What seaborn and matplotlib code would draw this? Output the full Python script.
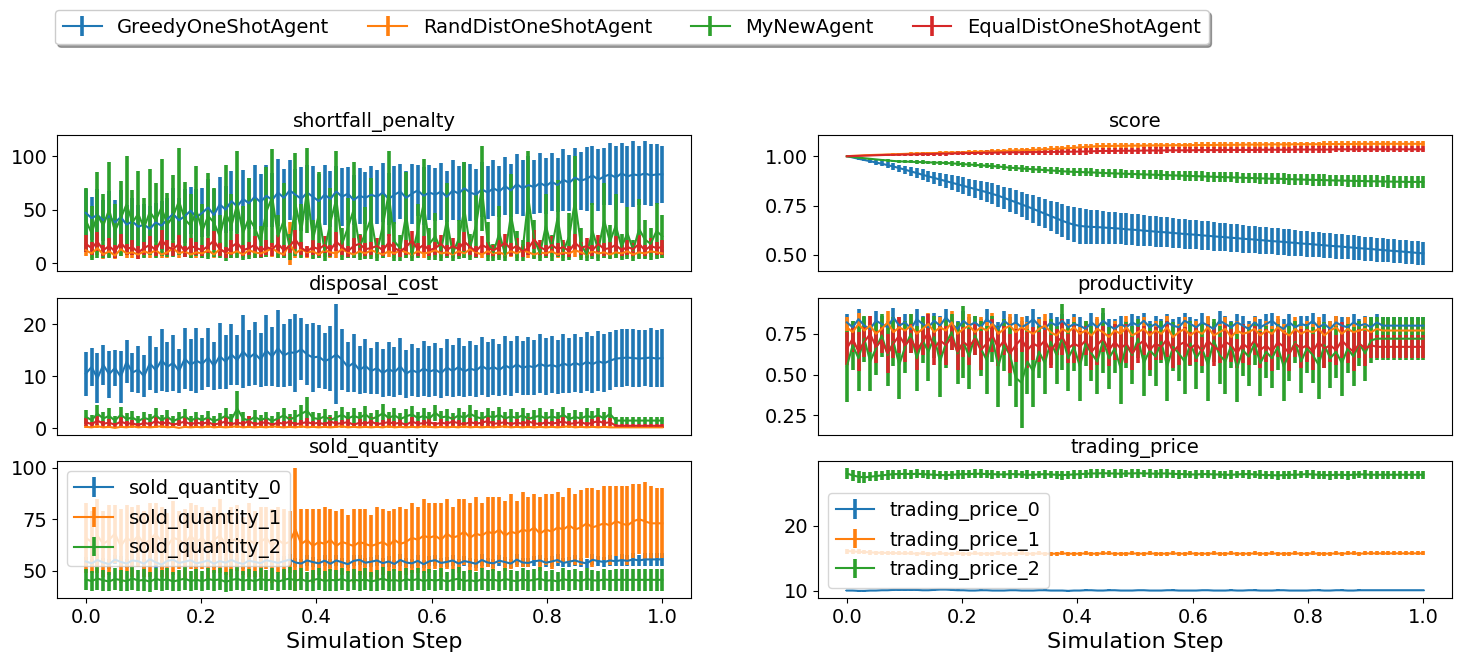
import numpy as np
import matplotlib
matplotlib.use("Agg")
import matplotlib.pyplot as plt
import seaborn as sns

# simulation steps, normalised to 0..1
n_steps = 100
steps = np.arange(n_steps) / (n_steps - 1)

agents = ["GreedyOneShotAgent", "RandDistOneShotAgent", "MyNewAgent", "EqualDistOneShotAgent"]

# ---------------- shortfall_penalty ----------------
greedy_sp = [47, 42, 45, 40, 44, 38, 43, 36, 39, 34,
             36, 32, 38, 35, 41, 46, 40, 44, 49, 43,
             47, 52, 45, 55, 50, 58, 53, 60, 56, 62,
             57, 63, 59, 66, 61, 68, 64, 60, 66, 62,
             58, 64, 60, 67, 62, 65, 59, 63, 61, 64,
             62, 66, 60, 64, 67, 61, 65, 68, 63, 66,
             64, 67, 62, 68, 65, 70, 66, 64, 69, 66,
             70, 67, 72, 68, 74, 70, 73, 71, 75, 72,
             76, 73, 78, 75, 80, 77, 79, 82, 78, 81,
             83, 80, 84, 81, 83, 82, 84, 82, 83, 83]
greedy_sp_err = [22, 20, 24, 19, 23, 21, 25, 18, 22, 20,
                 19, 21, 18, 23, 20, 24, 21, 25, 22, 26,
                 23, 27, 24, 26, 22, 28, 25, 27, 24, 30,
                 26, 29, 25, 31, 27, 28, 24, 30, 26, 29,
                 25, 28, 26, 24, 27, 25, 23, 26, 24, 27,
                 25, 28, 24, 27, 26, 25, 28, 24, 27, 26,
                 25, 27, 24, 28, 26, 25, 27, 24, 26, 25,
                 26, 24, 27, 25, 28, 26, 27, 25, 28, 26,
                 27, 25, 29, 26, 28, 27, 30, 28, 29, 27,
                 29, 30, 28, 29, 31, 28, 30, 29, 28, 27]
rand_sp = [12, 9, 14, 8, 11, 7, 13, 9, 10, 8,
           11, 9, 12, 8, 10, 14, 9, 11, 8, 10,
           9, 12, 8, 13, 10, 9, 11, 8, 12, 10,
           9, 11, 14, 10, 8, 18, 9, 13, 10, 11,
           8, 12, 10, 9, 13, 10, 8, 11, 9, 12,
           10, 8, 11, 9, 12, 10, 8, 11, 9, 10,
           12, 9, 10, 8, 11, 9, 13, 10, 8, 11,
           9, 10, 8, 11, 9, 12, 10, 8, 10, 9,
           11, 8, 10, 9, 12, 10, 8, 11, 9, 10,
           8, 10, 9, 11, 8, 10, 9, 11, 10, 9]
rand_sp_err = [5, 4, 6, 4, 5, 3, 6, 4, 5, 4,
               5, 4, 6, 3, 5, 7, 4, 5, 3, 5,
               4, 6, 3, 7, 5, 4, 5, 3, 6, 5,
               4, 5, 8, 5, 3, 20, 4, 7, 5, 6,
               3, 6, 5, 4, 7, 5, 3, 5, 4, 6,
               5, 3, 5, 4, 6, 5, 3, 5, 4, 5,
               6, 4, 5, 3, 5, 4, 7, 5, 3, 5,
               4, 5, 3, 5, 4, 6, 5, 3, 5, 4,
               5, 3, 5, 4, 6, 5, 3, 5, 4, 5,
               3, 5, 4, 5, 3, 5, 4, 5, 5, 4]
mynew_sp = [40, 28, 45, 35, 50, 30, 42, 55, 38, 46,
            33, 48, 40, 52, 36, 44, 58, 41, 35, 49,
            30, 44, 38, 25, 47, 35, 55, 28, 42, 33,
            20, 48, 62, 25, 40, 15, 55, 30, 68, 22,
            45, 12, 38, 60, 18, 33, 50, 15, 28, 42,
            10, 35, 65, 20, 14, 45, 8, 30, 55, 18,
            25, 12, 40, 9, 22, 50, 15, 35, 70, 20,
            10, 28, 8, 45, 16, 12, 60, 22, 9, 35,
            14, 42, 11, 25, 58, 18, 8, 30, 12, 40,
            20, 35, 15, 28, 12, 32, 22, 18, 30, 25]
mynew_sp_err = [30, 25, 40, 30, 45, 25, 35, 45, 30, 40,
                28, 40, 35, 45, 30, 38, 50, 35, 30, 42,
                25, 40, 32, 20, 45, 30, 50, 25, 38, 28,
                15, 42, 45, 20, 35, 12, 48, 25, 40, 18,
                40, 10, 32, 45, 15, 28, 45, 12, 24, 38,
                8, 30, 40, 18, 12, 40, 6, 25, 42, 15,
                22, 10, 35, 7, 18, 45, 12, 30, 40, 18,
                8, 25, 6, 38, 14, 10, 45, 18, 7, 30,
                12, 36, 9, 22, 42, 15, 6, 26, 10, 35,
                16, 30, 12, 24, 10, 28, 18, 15, 26, 20]
equal_sp = [18, 14, 20, 12, 16, 11, 19, 13, 15, 10,
            14, 17, 12, 22, 15, 13, 18, 11, 16, 14,
            12, 16, 21, 13, 10, 15, 19, 12, 14, 17,
            11, 15, 13, 18, 12, 16, 22, 14, 11, 15,
            13, 17, 12, 20, 15, 11, 16, 18, 13, 14,
            16, 12, 19, 14, 11, 15, 21, 13, 17, 12,
            14, 18, 12, 16, 13, 20, 15, 11, 17, 14,
            12, 15, 19, 13, 16, 11, 14, 22, 15, 12,
            17, 13, 15, 11, 19, 14, 16, 12, 18, 13,
            14, 17, 12, 15, 13, 18, 12, 16, 14, 15]
equal_sp_err = [8, 6, 9, 5, 7, 6, 8, 5, 7, 6,
                6, 8, 5, 9, 7, 6, 8, 5, 7, 6,
                5, 7, 9, 6, 5, 7, 8, 5, 6, 8,
                5, 7, 6, 8, 5, 7, 9, 6, 5, 7,
                6, 8, 5, 9, 7, 5, 7, 8, 6, 6,
                7, 5, 8, 6, 5, 7, 9, 6, 8, 5,
                6, 8, 5, 7, 6, 9, 7, 5, 8, 6,
                5, 7, 8, 6, 7, 5, 6, 9, 7, 5,
                8, 6, 7, 5, 8, 6, 7, 5, 8, 6,
                6, 8, 5, 7, 6, 8, 5, 7, 6, 7]

# ---------------- disposal_cost ----------------
greedy_dc = [10.5, 11.8, 9.6, 12.2, 10.4, 11.6, 9.9, 12.8, 10.7, 11.3,
             10.0, 12.5, 11.2, 13.1, 11.8, 12.6, 11.0, 13.4, 12.2, 13.0,
             12.4, 13.6, 12.0, 13.9, 12.8, 14.2, 13.1, 14.8, 13.5, 14.4,
             13.2, 15.0, 13.8, 15.4, 14.0, 14.6, 14.5, 15.2, 14.2, 13.6,
             13.8, 12.9, 13.4, 14.2, 13.2, 11.8, 12.6, 11.2, 12.0, 11.0,
             11.6, 10.6, 11.4, 10.8, 11.9, 10.5, 11.2, 10.7, 11.5, 10.9,
             11.3, 10.6, 11.7, 11.0, 11.8, 10.9, 11.5, 11.1, 12.0, 11.3,
             11.8, 11.2, 12.1, 11.5, 12.3, 11.6, 12.0, 11.7, 12.4, 11.9,
             12.2, 11.8, 12.5, 12.0, 12.6, 12.1, 12.8, 12.3, 12.9, 12.5,
             13.0, 13.4, 13.5, 13.6, 13.5, 13.4, 13.5, 13.6, 13.4, 13.5]
greedy_dc_err = [4.2, 3.6, 4.8, 3.9, 4.5, 3.4, 5.0, 4.1, 3.8, 4.6,
                 4.0, 5.2, 4.4, 6.0, 4.8, 5.4, 4.2, 5.8, 5.0, 6.2,
                 5.0, 5.6, 4.6, 6.4, 5.2, 5.8, 4.8, 7.0, 5.4, 6.0,
                 5.2, 6.8, 5.6, 7.4, 6.0, 6.4, 7.5, 6.0, 5.8, 6.6,
                 6.0, 5.4, 6.2, 9.6, 5.8, 4.8, 5.6, 4.6, 5.2, 4.4,
                 5.0, 4.6, 5.2, 4.8, 5.4, 4.6, 5.0, 4.7, 5.3, 4.9,
                 5.1, 4.8, 5.4, 5.0, 5.5, 4.9, 5.3, 5.0, 5.6, 5.2,
                 5.4, 5.0, 5.6, 5.2, 5.5, 5.1, 5.6, 5.3, 5.7, 5.4,
                 5.5, 5.2, 5.7, 5.3, 5.6, 5.4, 5.7, 5.5, 5.8, 5.6,
                 5.6, 5.4, 5.5, 5.4, 5.6, 5.5, 5.4, 5.6, 5.5, 5.5]
rand_dc = [0.3, 0.2, 0.4, 0.2, 0.3, 0.1, 0.3, 0.2, 0.4, 0.2,
           0.3, 0.2, 0.3, 0.4, 0.2, 0.3, 0.1, 0.3, 0.2, 0.3,
           0.2, 0.4, 0.2, 0.3, 0.2, 0.3, 0.4, 0.2, 0.3, 0.2,
           0.3, 0.2, 0.4, 0.3, 0.2, 0.3, 0.2, 0.4, 0.2, 0.3,
           0.2, 0.3, 0.2, 0.3, 0.4, 0.2, 0.3, 0.2, 0.3, 0.2,
           0.3, 0.2, 0.4, 0.2, 0.3, 0.2, 0.3, 0.2, 0.4, 0.3,
           0.2, 0.3, 0.2, 0.3, 0.2, 0.4, 0.2, 0.3, 0.2, 0.3,
           0.2, 0.3, 0.4, 0.2, 0.3, 0.2, 0.3, 0.2, 0.3, 0.2,
           0.3, 0.2, 0.3, 0.4, 0.2, 0.3, 0.2, 0.3, 0.2, 0.3,
           0.2, 0.2, 0.2, 0.2, 0.2, 0.2, 0.2, 0.2, 0.2, 0.2]
rand_dc_err = [0.3, 0.2, 0.4, 0.2, 0.3, 0.1, 0.3, 0.2, 0.4, 0.2,
               0.3, 0.2, 0.3, 0.4, 0.2, 0.3, 0.1, 0.3, 0.2, 0.3,
               0.2, 0.4, 0.2, 0.3, 0.2, 0.3, 0.4, 0.2, 0.3, 0.2,
               0.3, 0.2, 0.4, 0.3, 0.2, 0.3, 0.2, 0.4, 0.2, 0.3,
               0.2, 0.3, 0.2, 0.3, 0.4, 0.2, 0.3, 0.2, 0.3, 0.2,
               0.3, 0.2, 0.4, 0.2, 0.3, 0.2, 0.3, 0.2, 0.4, 0.3,
               0.2, 0.3, 0.2, 0.3, 0.2, 0.4, 0.2, 0.3, 0.2, 0.3,
               0.2, 0.3, 0.4, 0.2, 0.3, 0.2, 0.3, 0.2, 0.3, 0.2,
               0.3, 0.2, 0.3, 0.4, 0.2, 0.3, 0.2, 0.3, 0.2, 0.3,
               0.2, 0.2, 0.2, 0.2, 0.2, 0.2, 0.2, 0.2, 0.2, 0.2]
mynew_dc = [2.2, 1.6, 2.8, 1.9, 2.4, 1.5, 2.6, 1.8, 2.1, 1.4,
            2.0, 1.7, 2.5, 1.6, 2.2, 1.4, 1.9, 2.3, 1.5, 2.0,
            1.6, 2.1, 1.4, 1.8, 2.4, 1.7, 3.8, 1.9, 1.5, 2.2,
            1.6, 2.0, 1.4, 1.9, 2.5, 1.7, 2.2, 2.8, 3.4, 2.0,
            1.8, 2.3, 1.6, 2.1, 2.6, 1.9, 2.4, 2.0, 2.7, 1.8,
            2.2, 2.9, 2.0, 2.5, 1.8, 2.3, 2.7, 2.0, 2.4, 1.9,
            3.0, 2.1, 2.3, 1.8, 2.5, 2.0, 2.8, 2.2, 1.9, 2.4,
            2.1, 2.6, 1.9, 2.3, 2.0, 2.5, 1.8, 2.2, 2.4, 1.9,
            2.3, 2.0, 2.6, 1.8, 2.2, 1.9, 2.4, 2.1, 2.5, 1.9,
            2.8, 1.5, 1.5, 1.5, 1.5, 1.5, 1.5, 1.5, 1.5, 1.5]
mynew_dc_err = [1.4, 1.0, 1.6, 1.2, 1.5, 0.9, 1.6, 1.1, 1.3, 0.9,
                1.2, 1.0, 1.5, 1.0, 1.3, 0.9, 1.2, 1.4, 0.9, 1.2,
                1.0, 1.3, 0.9, 1.1, 1.5, 1.0, 3.3, 1.2, 0.9, 1.3,
                1.0, 1.2, 0.9, 1.2, 1.5, 1.0, 1.3, 1.7, 2.6, 1.2,
                1.1, 1.4, 1.0, 1.3, 1.6, 1.2, 1.5, 1.2, 1.6, 1.1,
                1.3, 1.7, 1.2, 1.5, 1.1, 1.4, 1.6, 1.2, 1.5, 1.2,
                1.5, 1.3, 1.4, 1.1, 1.5, 1.2, 1.7, 1.3, 1.2, 1.5,
                1.3, 1.6, 1.2, 1.4, 1.2, 1.5, 1.1, 1.3, 1.5, 1.2,
                1.4, 1.2, 1.6, 1.1, 1.3, 1.2, 1.5, 1.3, 1.5, 1.2,
                1.4, 0.7, 0.7, 0.7, 0.7, 0.7, 0.7, 0.7, 0.7, 0.7]
equal_dc = [1.2, 0.8, 1.5, 0.9, 1.1, 0.7, 1.3, 0.9, 1.0, 0.6,
            1.1, 0.8, 1.4, 0.9, 1.2, 0.7, 1.0, 1.3, 0.8, 1.1,
            0.9, 1.2, 0.7, 1.0, 1.3, 0.8, 1.1, 0.9, 1.4, 0.8,
            1.0, 1.2, 0.7, 1.1, 0.9, 1.3, 0.8, 1.0, 1.2, 0.9,
            1.1, 0.8, 1.3, 0.9, 1.0, 1.2, 0.7, 1.1, 0.9, 1.3,
            0.8, 1.0, 1.2, 0.9, 1.1, 0.7, 1.3, 0.9, 1.0, 1.2,
            0.8, 1.1, 0.9, 1.3, 1.0, 0.8, 1.2, 0.9, 1.1, 1.4,
            0.9, 1.0, 1.2, 0.8, 1.1, 0.9, 1.3, 1.0, 0.8, 1.2,
            0.9, 1.1, 1.3, 0.9, 1.0, 1.2, 0.8, 1.1, 1.4, 1.0,
            1.2, 0.5, 0.5, 0.5, 0.5, 0.5, 0.5, 0.5, 0.5, 0.5]
equal_dc_err = [0.8, 0.5, 0.9, 0.6, 0.7, 0.4, 0.8, 0.6, 0.7, 0.4,
                0.7, 0.5, 0.9, 0.6, 0.8, 0.4, 0.6, 0.8, 0.5, 0.7,
                0.6, 0.8, 0.4, 0.6, 0.8, 0.5, 0.7, 0.6, 0.9, 0.5,
                0.6, 0.8, 0.4, 0.7, 0.6, 0.8, 0.5, 0.6, 0.8, 0.6,
                0.7, 0.5, 0.8, 0.6, 0.6, 0.8, 0.4, 0.7, 0.6, 0.8,
                0.5, 0.6, 0.8, 0.6, 0.7, 0.4, 0.8, 0.6, 0.6, 0.8,
                0.5, 0.7, 0.6, 0.8, 0.6, 0.5, 0.8, 0.6, 0.7, 0.9,
                0.6, 0.6, 0.8, 0.5, 0.7, 0.6, 0.8, 0.6, 0.5, 0.8,
                0.6, 0.7, 0.8, 0.6, 0.6, 0.8, 0.5, 0.7, 0.9, 0.6,
                0.8, 0.4, 0.4, 0.4, 0.4, 0.4, 0.4, 0.4, 0.4, 0.4]

# ---------------- sold_quantity ----------------
sold_q0 = [54.5, 53.6, 55.2, 54.0, 53.2, 55.4, 54.3, 53.5, 55.0, 54.6,
           53.4, 55.6, 54.1, 53.0, 54.8, 55.3, 53.8, 54.4, 55.1, 53.6,
           54.2, 55.0, 53.4, 54.7, 53.9, 55.2, 54.0, 53.3, 54.9, 54.3,
           53.7, 55.1, 54.5, 53.8, 54.6, 55.4, 54.0, 53.5, 55.0, 54.2,
           53.6, 54.9, 53.4, 55.0, 54.1, 53.2, 54.8, 55.3, 53.9, 54.4,
           55.0, 53.7, 54.5, 53.3, 55.2, 54.0, 53.6, 54.8, 53.2, 54.6,
           55.1, 53.8, 54.3, 55.0, 53.5, 54.7, 54.1, 53.4, 55.2, 54.0,
           53.6, 54.9, 54.2, 53.5, 55.4, 54.0, 53.8, 54.6, 55.0, 53.9,
           54.5, 55.2, 53.8, 54.4, 55.0, 54.1, 53.6, 55.3, 54.7, 54.2,
           55.0, 54.6, 55.2, 54.8, 55.5, 55.0, 55.5, 55.5, 55.5, 55.5]
sold_q0_err = [2.4, 2.0, 2.8, 2.2, 2.5, 2.1, 2.7, 2.3, 2.6, 2.0,
               2.5, 2.2, 2.8, 2.1, 2.4, 2.6, 2.2, 2.5, 2.7, 2.1,
               2.4, 2.6, 2.0, 2.5, 2.3, 2.7, 2.2, 2.4, 2.6, 2.1,
               2.5, 2.3, 2.7, 2.2, 2.4, 2.8, 2.3, 2.1, 2.6, 2.4,
               2.2, 2.5, 2.1, 2.7, 2.3, 2.0, 2.6, 2.4, 2.2, 2.5,
               2.7, 2.3, 2.5, 2.1, 2.8, 2.4, 2.2, 2.6, 2.0, 2.5,
               2.7, 2.2, 2.4, 2.6, 2.1, 2.5, 2.3, 2.2, 2.8, 2.4,
               2.2, 2.6, 2.4, 2.1, 2.7, 2.3, 2.2, 2.5, 2.7, 2.3,
               2.5, 2.7, 2.2, 2.4, 2.6, 2.3, 2.1, 2.7, 2.5, 2.4,
               2.6, 2.5, 2.7, 2.6, 3.0, 2.8, 3.0, 3.0, 3.0, 3.0]
sold_q1 = [66, 64, 67, 63, 65, 68, 62, 66, 64, 67,
           63, 65, 68, 64, 62, 66, 65, 63, 67, 64,
           66, 62, 65, 67, 63, 64, 66, 62, 65, 63,
           64, 66, 62, 65, 63, 64, 70, 63, 65, 62,
           64, 63, 65, 62, 64, 63, 62, 64, 63, 62,
           63, 64, 62, 65, 63, 64, 66, 65, 67, 66,
           67, 65, 68, 66, 67, 69, 66, 68, 67, 69,
           68, 70, 67, 69, 68, 70, 69, 71, 68, 70,
           69, 71, 70, 72, 70, 71, 73, 71, 72, 73,
           72, 74, 73, 72, 74, 75, 74, 73, 73, 73]
sold_q1_err = [17, 15, 18, 16, 17, 14, 18, 16, 17, 15,
               16, 18, 15, 17, 16, 18, 14, 17, 16, 18,
               15, 17, 16, 18, 15, 17, 16, 14, 18, 16,
               17, 15, 18, 16, 17, 15, 30, 17, 15, 18,
               16, 18, 15, 17, 16, 14, 18, 16, 17, 15,
               18, 16, 17, 15, 18, 16, 17, 16, 18, 17,
               16, 18, 17, 15, 18, 16, 17, 18, 16, 17,
               18, 16, 17, 18, 16, 18, 17, 16, 18, 17,
               18, 17, 16, 18, 17, 18, 17, 19, 17, 18,
               19, 17, 18, 19, 18, 17, 19, 18, 17, 17]
sold_q2 = [45.8, 45.0, 46.2, 45.4, 44.8, 46.0, 45.5, 44.9, 46.3, 45.2,
           45.6, 44.7, 46.1, 45.3, 45.9, 44.8, 45.5, 46.2, 45.0, 45.7,
           44.9, 46.0, 45.4, 45.8, 44.6, 45.5, 46.1, 45.1, 45.7, 44.9,
           46.0, 45.3, 45.8, 44.7, 45.6, 46.2, 45.2, 45.9, 44.8, 45.5,
           46.1, 45.0, 45.6, 45.3, 46.0, 44.9, 45.7, 45.2, 45.8, 44.8,
           45.5, 46.2, 45.1, 45.6, 44.9, 45.9, 45.3, 46.0, 45.0, 45.7,
           45.2, 45.8, 44.7, 45.6, 46.1, 45.0, 45.5, 44.8, 45.9, 45.3,
           45.7, 45.0, 46.0, 45.4, 44.9, 45.8, 45.2, 45.6, 46.1, 45.1,
           45.5, 44.8, 45.9, 45.3, 45.7, 45.0, 46.0, 45.4, 45.2, 45.8,
           45.5, 45.6, 45.6, 45.6, 45.6, 45.6, 45.6, 45.6, 45.6, 45.6]
sold_q2_err = [5.2, 4.8, 5.5, 5.0, 4.7, 5.3, 5.1, 4.9, 5.6, 5.0,
               5.2, 4.8, 5.4, 5.0, 5.3, 4.7, 5.1, 5.5, 4.9, 5.2,
               4.8, 5.4, 5.0, 5.3, 4.7, 5.2, 5.5, 4.9, 5.1, 4.8,
               5.4, 5.0, 5.3, 4.7, 5.1, 5.6, 5.0, 5.2, 4.8, 5.1,
               5.4, 4.9, 5.2, 5.0, 5.3, 4.8, 5.1, 4.9, 5.3, 4.7,
               5.1, 5.5, 4.9, 5.2, 4.8, 5.3, 5.0, 5.4, 4.9, 5.1,
               5.0, 5.3, 4.7, 5.2, 5.5, 4.9, 5.1, 4.8, 5.4, 5.0,
               5.2, 4.9, 5.4, 5.0, 4.8, 5.3, 5.0, 5.2, 5.5, 4.9,
               5.1, 4.8, 5.4, 5.0, 5.2, 4.9, 5.3, 5.0, 4.9, 5.2,
               5.1, 5.2, 5.2, 5.2, 5.2, 5.2, 5.2, 5.2, 5.2, 5.2]

# ---------------- score ----------------
greedy_score = [1.000, 0.994, 0.987, 0.981, 0.975, 0.968, 0.962, 0.955, 0.948, 0.940,
                0.932, 0.923, 0.915, 0.906, 0.898, 0.890, 0.882, 0.874, 0.866, 0.858,
                0.850, 0.842, 0.834, 0.826, 0.818, 0.809, 0.800, 0.789, 0.778, 0.767,
                0.756, 0.745, 0.733, 0.721, 0.709, 0.697, 0.685, 0.673, 0.662, 0.653,
                0.647, 0.644, 0.642, 0.641, 0.639, 0.637, 0.635, 0.633, 0.630, 0.628,
                0.626, 0.623, 0.621, 0.618, 0.616, 0.614, 0.611, 0.609, 0.606, 0.604,
                0.602, 0.599, 0.597, 0.594, 0.592, 0.590, 0.587, 0.585, 0.582, 0.580,
                0.578, 0.575, 0.573, 0.570, 0.568, 0.566, 0.563, 0.561, 0.558, 0.556,
                0.554, 0.551, 0.549, 0.546, 0.544, 0.542, 0.539, 0.537, 0.534, 0.532,
                0.530, 0.527, 0.525, 0.522, 0.520, 0.518, 0.515, 0.513, 0.510, 0.508]
greedy_score_err = [0.000, 0.003, 0.005, 0.007, 0.009, 0.011, 0.012, 0.014, 0.016, 0.018,
                    0.020, 0.022, 0.025, 0.027, 0.029, 0.032, 0.034, 0.036, 0.039, 0.041,
                    0.043, 0.045, 0.047, 0.049, 0.051, 0.053, 0.055, 0.057, 0.059, 0.061,
                    0.063, 0.066, 0.069, 0.072, 0.075, 0.078, 0.081, 0.084, 0.087, 0.089,
                    0.090, 0.089, 0.087, 0.085, 0.083, 0.082, 0.081, 0.080, 0.080, 0.079,
                    0.079, 0.078, 0.078, 0.077, 0.077, 0.076, 0.076, 0.075, 0.075, 0.074,
                    0.074, 0.073, 0.073, 0.072, 0.072, 0.071, 0.071, 0.070, 0.070, 0.069,
                    0.069, 0.068, 0.068, 0.067, 0.067, 0.066, 0.066, 0.065, 0.065, 0.064,
                    0.064, 0.064, 0.063, 0.063, 0.063, 0.062, 0.062, 0.062, 0.061, 0.061,
                    0.061, 0.061, 0.060, 0.060, 0.060, 0.060, 0.060, 0.060, 0.060, 0.060]
rand_score = [1.000, 1.002, 1.003, 1.005, 1.006, 1.007, 1.008, 1.009, 1.010, 1.011,
              1.012, 1.013, 1.014, 1.015, 1.016, 1.016, 1.017, 1.018, 1.019, 1.019,
              1.020, 1.021, 1.022, 1.023, 1.024, 1.025, 1.026, 1.027, 1.028, 1.029,
              1.030, 1.031, 1.032, 1.034, 1.035, 1.036, 1.038, 1.040, 1.041, 1.043,
              1.045, 1.047, 1.049, 1.051, 1.052, 1.052, 1.053, 1.053, 1.053, 1.054,
              1.054, 1.054, 1.055, 1.055, 1.055, 1.055, 1.056, 1.056, 1.056, 1.056,
              1.057, 1.057, 1.057, 1.057, 1.058, 1.058, 1.058, 1.058, 1.059, 1.059,
              1.059, 1.059, 1.060, 1.060, 1.060, 1.060, 1.060, 1.061, 1.061, 1.061,
              1.061, 1.061, 1.062, 1.062, 1.062, 1.062, 1.062, 1.062, 1.063, 1.063,
              1.063, 1.063, 1.063, 1.063, 1.063, 1.063, 1.063, 1.063, 1.063, 1.063]
rand_score_err = [0.000, 0.001, 0.001, 0.002, 0.002, 0.003, 0.003, 0.004, 0.004, 0.005,
                  0.005, 0.006, 0.006, 0.006, 0.007, 0.007, 0.008, 0.008, 0.008, 0.009,
                  0.009, 0.009, 0.010, 0.010, 0.010, 0.011, 0.011, 0.011, 0.012, 0.012,
                  0.012, 0.013, 0.013, 0.013, 0.013, 0.014, 0.014, 0.014, 0.014, 0.014,
                  0.015, 0.015, 0.015, 0.015, 0.015, 0.015, 0.015, 0.014, 0.014, 0.014,
                  0.014, 0.014, 0.014, 0.014, 0.014, 0.014, 0.013, 0.013, 0.013, 0.013,
                  0.013, 0.013, 0.013, 0.013, 0.013, 0.013, 0.013, 0.013, 0.013, 0.013,
                  0.013, 0.013, 0.013, 0.013, 0.013, 0.013, 0.013, 0.013, 0.013, 0.013,
                  0.013, 0.013, 0.013, 0.013, 0.013, 0.013, 0.013, 0.013, 0.013, 0.013,
                  0.013, 0.013, 0.013, 0.013, 0.013, 0.013, 0.013, 0.013, 0.013, 0.013]
mynew_score = [1.000, 0.996, 0.993, 0.990, 0.987, 0.984, 0.981, 0.979, 0.976, 0.974,
               0.973, 0.972, 0.971, 0.970, 0.969, 0.968, 0.967, 0.966, 0.964, 0.962,
               0.960, 0.958, 0.956, 0.954, 0.952, 0.950, 0.948, 0.945, 0.942, 0.940,
               0.938, 0.936, 0.934, 0.932, 0.930, 0.928, 0.926, 0.924, 0.922, 0.921,
               0.920, 0.919, 0.918, 0.917, 0.915, 0.914, 0.913, 0.912, 0.911, 0.910,
               0.909, 0.908, 0.907, 0.906, 0.905, 0.904, 0.903, 0.902, 0.901, 0.900,
               0.899, 0.898, 0.897, 0.896, 0.895, 0.894, 0.893, 0.892, 0.891, 0.890,
               0.889, 0.888, 0.887, 0.886, 0.886, 0.885, 0.884, 0.883, 0.882, 0.881,
               0.880, 0.880, 0.879, 0.878, 0.877, 0.877, 0.876, 0.875, 0.875, 0.874,
               0.873, 0.873, 0.872, 0.872, 0.871, 0.871, 0.870, 0.870, 0.870, 0.870]
mynew_score_err = [0.000, 0.001, 0.002, 0.003, 0.004, 0.004, 0.005, 0.006, 0.006, 0.007,
                   0.007, 0.008, 0.008, 0.009, 0.009, 0.010, 0.010, 0.011, 0.011, 0.012,
                   0.012, 0.012, 0.013, 0.013, 0.014, 0.014, 0.014, 0.015, 0.015, 0.016,
                   0.016, 0.016, 0.017, 0.017, 0.017, 0.018, 0.018, 0.018, 0.019, 0.019,
                   0.019, 0.020, 0.020, 0.020, 0.020, 0.021, 0.021, 0.021, 0.021, 0.022,
                   0.022, 0.022, 0.022, 0.023, 0.023, 0.023, 0.023, 0.024, 0.024, 0.024,
                   0.024, 0.025, 0.025, 0.025, 0.025, 0.026, 0.026, 0.026, 0.026, 0.026,
                   0.027, 0.027, 0.027, 0.027, 0.027, 0.028, 0.028, 0.028, 0.028, 0.028,
                   0.029, 0.029, 0.029, 0.029, 0.029, 0.029, 0.030, 0.030, 0.030, 0.030,
                   0.030, 0.030, 0.030, 0.031, 0.031, 0.031, 0.031, 0.031, 0.032, 0.032]
equal_score = [1.000, 1.001, 1.002, 1.003, 1.004, 1.005, 1.006, 1.007, 1.007, 1.008,
               1.009, 1.009, 1.010, 1.011, 1.011, 1.012, 1.013, 1.013, 1.014, 1.015,
               1.016, 1.016, 1.017, 1.017, 1.018, 1.018, 1.019, 1.019, 1.020, 1.020,
               1.020, 1.021, 1.021, 1.021, 1.022, 1.022, 1.022, 1.023, 1.023, 1.023,
               1.024, 1.024, 1.025, 1.026, 1.027, 1.027, 1.027, 1.028, 1.028, 1.028,
               1.028, 1.029, 1.029, 1.029, 1.029, 1.030, 1.030, 1.030, 1.030, 1.030,
               1.031, 1.031, 1.031, 1.031, 1.031, 1.032, 1.032, 1.032, 1.032, 1.032,
               1.032, 1.033, 1.033, 1.033, 1.033, 1.033, 1.033, 1.034, 1.034, 1.034,
               1.034, 1.034, 1.034, 1.034, 1.035, 1.035, 1.035, 1.035, 1.035, 1.035,
               1.035, 1.035, 1.035, 1.035, 1.035, 1.035, 1.035, 1.035, 1.035, 1.035]
equal_score_err = [0.000, 0.001, 0.002, 0.003, 0.003, 0.004, 0.005, 0.005, 0.006, 0.006,
                   0.007, 0.007, 0.008, 0.008, 0.009, 0.009, 0.010, 0.010, 0.010, 0.011,
                   0.011, 0.011, 0.012, 0.012, 0.012, 0.013, 0.013, 0.013, 0.013, 0.014,
                   0.014, 0.014, 0.014, 0.015, 0.015, 0.015, 0.015, 0.015, 0.015, 0.016,
                   0.016, 0.016, 0.016, 0.016, 0.016, 0.016, 0.016, 0.016, 0.016, 0.016,
                   0.016, 0.016, 0.016, 0.016, 0.016, 0.016, 0.016, 0.016, 0.016, 0.016,
                   0.016, 0.016, 0.016, 0.016, 0.016, 0.016, 0.016, 0.016, 0.016, 0.016,
                   0.016, 0.016, 0.016, 0.016, 0.016, 0.016, 0.016, 0.016, 0.016, 0.016,
                   0.016, 0.016, 0.016, 0.016, 0.016, 0.016, 0.016, 0.016, 0.016, 0.016,
                   0.016, 0.016, 0.016, 0.016, 0.016, 0.016, 0.016, 0.016, 0.016, 0.016]

# ---------------- productivity (in %) ----------------
greedy_prod = [82, 79, 84, 80, 78, 83, 81, 79, 85, 80,
               82, 78, 84, 81, 79, 83, 80, 85, 81, 78,
               83, 80, 82, 79, 84, 81, 78, 83, 80, 82,
               79, 81, 84, 80, 78, 82, 80, 83, 79, 81,
               80, 78, 82, 79, 83, 80, 78, 81, 79, 82,
               80, 83, 79, 81, 78, 82, 80, 79, 83, 81,
               79, 82, 80, 78, 83, 81, 79, 82, 80, 78,
               82, 79, 81, 83, 80, 78, 82, 79, 81, 80,
               83, 79, 81, 78, 82, 80, 79, 82, 80, 81,
               79, 82, 80, 80, 80, 80, 80, 80, 80, 80]
greedy_prod_err = [5, 4, 6, 5, 4, 6, 5, 4, 6, 5,
                   5, 4, 6, 5, 4, 5, 6, 5, 4, 5,
                   6, 5, 4, 5, 6, 5, 4, 6, 5, 5,
                   4, 5, 6, 5, 4, 6, 5, 4, 5, 6,
                   5, 4, 6, 5, 5, 4, 6, 5, 4, 5,
                   6, 5, 4, 5, 6, 5, 4, 6, 5, 4,
                   5, 6, 5, 4, 6, 5, 4, 5, 6, 5,
                   4, 5, 6, 5, 4, 6, 5, 4, 5, 6,
                   5, 4, 6, 5, 4, 5, 6, 5, 4, 5,
                   6, 5, 5, 5, 5, 5, 5, 5, 5, 5]
rand_prod = [79, 76, 81, 77, 80, 75, 78, 82, 76, 79,
             77, 80, 75, 78, 81, 76, 79, 77, 82, 75,
             78, 80, 76, 79, 77, 81, 75, 78, 80, 76,
             79, 77, 75, 78, 80, 76, 74, 78, 76, 79,
             75, 77, 74, 78, 76, 73, 77, 75, 79, 74,
             76, 78, 74, 77, 75, 79, 73, 76, 78, 74,
             77, 75, 79, 74, 76, 78, 73, 77, 75, 76,
             78, 74, 77, 75, 79, 76, 74, 78, 75, 77,
             76, 78, 74, 77, 79, 75, 78, 76, 77, 78,
             76, 78, 77, 77, 77, 77, 77, 77, 77, 77]
rand_prod_err = [6, 5, 7, 5, 6, 4, 6, 7, 5, 6,
                 5, 7, 4, 6, 7, 5, 6, 5, 7, 4,
                 6, 7, 5, 6, 5, 7, 4, 6, 7, 5,
                 6, 5, 4, 6, 7, 5, 4, 6, 5, 6,
                 4, 6, 5, 7, 5, 4, 6, 5, 7, 4,
                 5, 7, 4, 6, 5, 7, 4, 5, 7, 4,
                 6, 5, 7, 4, 5, 7, 4, 6, 5, 5,
                 7, 4, 6, 5, 7, 5, 4, 7, 5, 6,
                 5, 7, 4, 6, 7, 5, 7, 5, 6, 7,
                 5, 6, 6, 6, 6, 6, 6, 6, 6, 6]
mynew_prod = [55, 68, 60, 72, 58, 66, 74, 62, 70, 56,
              67, 75, 60, 71, 64, 73, 58, 69, 76, 63,
              70, 61, 74, 66, 59, 72, 55, 68, 62, 48,
              45, 58, 52, 64, 57, 70, 62, 73, 60, 67,
              55, 69, 63, 58, 71, 60, 66, 54, 68, 62,
              72, 57, 65, 61, 70, 55, 67, 63, 58, 69,
              60, 66, 56, 71, 62, 58, 68, 54, 65, 61,
              69, 57, 64, 60, 67, 55, 63, 70, 58, 66,
              62, 56, 68, 60, 64, 57, 66, 61, 69, 63,
              71, 72, 72, 72, 72, 72, 72, 72, 72, 72]
mynew_prod_err = [22, 15, 20, 14, 18, 16, 13, 19, 15, 21,
                  16, 12, 20, 14, 18, 13, 22, 15, 11, 19,
                  22, 20, 12, 17, 21, 14, 25, 16, 19, 18,
                  28, 20, 22, 16, 19, 14, 18, 20, 20, 15,
                  21, 14, 17, 20, 20, 19, 15, 22, 14, 18,
                  12, 20, 16, 18, 13, 21, 15, 17, 20, 14,
                  19, 15, 22, 13, 18, 20, 14, 21, 16, 18,
                  13, 20, 16, 18, 14, 21, 17, 13, 19, 15,
                  17, 21, 14, 18, 16, 20, 15, 18, 14, 17,
                  14, 13, 13, 13, 13, 13, 13, 13, 13, 13]
equal_prod = [66, 72, 64, 70, 75, 67, 71, 63, 69, 74,
              68, 72, 65, 70, 76, 66, 71, 68, 73, 64,
              70, 67, 72, 65, 69, 74, 66, 71, 63, 68,
              72, 65, 69, 67, 71, 64, 70, 73, 66, 69,
              67, 71, 64, 68, 72, 65, 70, 66, 69, 63,
              68, 71, 65, 69, 67, 72, 64, 68, 70, 66,
              69, 64, 71, 67, 65, 70, 68, 63, 69, 66,
              71, 65, 68, 64, 70, 67, 63, 69, 66, 68,
              64, 70, 66, 68, 65, 71, 67, 64, 69, 66,
              68, 67, 67, 67, 67, 67, 67, 67, 67, 67]
equal_prod_err = [10, 8, 12, 9, 11, 10, 8, 12, 9, 11,
                  10, 9, 12, 8, 11, 10, 9, 12, 8, 11,
                  9, 11, 10, 12, 8, 10, 11, 9, 12, 10,
                  8, 11, 10, 9, 12, 10, 8, 11, 9, 12,
                  10, 9, 11, 12, 8, 10, 11, 9, 12, 10,
                  11, 9, 12, 10, 8, 11, 10, 12, 9, 10,
                  11, 9, 10, 12, 8, 11, 10, 9, 12, 10,
                  9, 11, 10, 12, 9, 10, 11, 8, 12, 10,
                  11, 9, 12, 10, 9, 11, 10, 12, 9, 11,
                  8, 7, 7, 7, 7, 7, 7, 7, 7, 7]

# ---------------- trading_price ----------------
trade_p0 = [10.0, 10.0, 9.95, 9.95, 10.0, 10.0, 10.05, 10.05, 10.1, 10.1,
            10.1, 10.1, 10.1, 10.05, 10.05, 10.1, 10.15, 10.15, 10.1, 10.05,
            10.05, 10.0, 10.0, 10.05, 10.05, 10.0, 10.0, 10.0, 10.05, 10.05,
            10.0, 10.0, 10.0, 10.05, 10.05, 10.0, 10.0, 10.0, 9.95, 10.0,
            10.0, 10.05, 10.05, 10.0, 10.0, 10.05, 10.05, 10.0, 10.0, 10.0,
            10.05, 10.05, 10.0, 10.0, 10.0, 10.05, 10.05, 10.0, 10.0, 10.0,
            10.0, 10.05, 10.05, 10.0, 10.0, 10.0, 10.05, 10.0, 10.0, 10.05,
            10.05, 10.0, 10.0, 10.0, 10.05, 10.05, 10.0, 10.0, 10.0, 10.0,
            10.05, 10.05, 10.0, 10.0, 10.05, 10.05, 10.0, 10.0, 10.05, 10.05,
            10.05, 10.05, 10.05, 10.05, 10.05, 10.05, 10.05, 10.05, 10.05, 10.05]
trade_p0_err = [0.10, 0.12, 0.10, 0.11, 0.10, 0.12, 0.10, 0.11, 0.12, 0.10,
                0.11, 0.10, 0.12, 0.10, 0.11, 0.10, 0.12, 0.11, 0.10, 0.12,
                0.10, 0.11, 0.10, 0.12, 0.10, 0.11, 0.12, 0.10, 0.11, 0.10,
                0.12, 0.10, 0.11, 0.10, 0.12, 0.11, 0.10, 0.12, 0.10, 0.11,
                0.10, 0.12, 0.10, 0.11, 0.10, 0.12, 0.11, 0.10, 0.12, 0.10,
                0.11, 0.10, 0.12, 0.10, 0.11, 0.10, 0.12, 0.11, 0.10, 0.12,
                0.10, 0.11, 0.10, 0.12, 0.10, 0.11, 0.12, 0.10, 0.11, 0.10,
                0.12, 0.10, 0.11, 0.10, 0.12, 0.11, 0.10, 0.12, 0.10, 0.11,
                0.10, 0.12, 0.10, 0.11, 0.10, 0.12, 0.11, 0.10, 0.12, 0.10,
                0.11, 0.11, 0.11, 0.11, 0.11, 0.11, 0.11, 0.11, 0.11, 0.11]
trade_p1 = [16.10, 16.05, 16.00, 15.95, 15.90, 15.85, 15.85, 15.80, 15.80, 15.75,
            15.75, 15.75, 15.70, 15.75, 15.70, 15.70, 15.75, 15.70, 15.70, 15.75,
            15.70, 15.70, 15.75, 15.70, 15.70, 15.70, 15.75, 15.70, 15.70, 15.70,
            15.75, 15.70, 15.70, 15.75, 15.70, 15.70, 15.70, 15.75, 15.70, 15.70,
            15.70, 15.75, 15.70, 15.70, 15.75, 15.75, 15.70, 15.70, 15.70, 15.75,
            15.70, 15.70, 15.75, 15.70, 15.70, 15.70, 15.75, 15.70, 15.70, 15.75,
            15.70, 15.70, 15.70, 15.75, 15.70, 15.70, 15.75, 15.70, 15.70, 15.70,
            15.75, 15.70, 15.70, 15.75, 15.70, 15.70, 15.70, 15.75, 15.70, 15.70,
            15.75, 15.70, 15.70, 15.70, 15.75, 15.70, 15.75, 15.75, 15.70, 15.75,
            15.75, 15.75, 15.75, 15.75, 15.75, 15.75, 15.75, 15.75, 15.75, 15.75]
trade_p1_err = [0.40, 0.38, 0.36, 0.35, 0.34, 0.33, 0.32, 0.32, 0.31, 0.30,
                0.30, 0.31, 0.30, 0.29, 0.30, 0.31, 0.30, 0.29, 0.30, 0.31,
                0.30, 0.29, 0.30, 0.31, 0.30, 0.29, 0.30, 0.31, 0.30, 0.29,
                0.30, 0.31, 0.30, 0.29, 0.30, 0.31, 0.30, 0.29, 0.30, 0.31,
                0.30, 0.29, 0.30, 0.31, 0.32, 0.33, 0.31, 0.30, 0.31, 0.32,
                0.30, 0.31, 0.30, 0.29, 0.30, 0.31, 0.30, 0.29, 0.30, 0.31,
                0.30, 0.29, 0.30, 0.31, 0.30, 0.29, 0.30, 0.31, 0.30, 0.29,
                0.30, 0.31, 0.30, 0.29, 0.30, 0.31, 0.30, 0.29, 0.30, 0.31,
                0.30, 0.31, 0.30, 0.29, 0.31, 0.32, 0.33, 0.32, 0.31, 0.32,
                0.32, 0.32, 0.32, 0.32, 0.32, 0.32, 0.32, 0.32, 0.32, 0.32]
trade_p2 = [28.1, 27.8, 27.6, 27.5, 27.6, 27.7, 27.8, 27.9, 28.0, 28.0,
            28.05, 28.0, 28.05, 28.0, 27.95, 27.9, 27.85, 27.85, 27.9, 27.95,
            28.0, 28.0, 28.05, 28.05, 28.0, 28.0, 27.95, 27.95, 28.0, 28.0,
            27.95, 27.9, 27.9, 27.95, 28.0, 27.95, 27.9, 27.85, 27.9, 27.95,
            28.0, 28.05, 28.1, 28.1, 28.15, 28.1, 28.1, 28.05, 28.1, 28.1,
            28.15, 28.1, 28.1, 28.05, 28.1, 28.1, 28.05, 28.0, 28.0, 27.95,
            27.95, 28.0, 28.0, 27.95, 27.95, 27.9, 27.9, 27.95, 28.0, 28.0,
            27.95, 27.9, 27.85, 27.85, 27.8, 27.85, 27.9, 27.9, 27.95, 28.0,
            27.95, 27.9, 27.85, 27.85, 27.9, 27.9, 27.85, 27.9, 27.95, 27.95,
            27.9, 27.9, 27.9, 27.9, 27.9, 27.9, 27.9, 27.9, 27.9, 27.9]
trade_p2_err = [0.9, 0.8, 0.9, 0.8, 0.7, 0.8, 0.7, 0.8, 0.7, 0.7,
                0.8, 0.7, 0.7, 0.6, 0.7, 0.7, 0.6, 0.7, 0.6, 0.7,
                0.7, 0.6, 0.7, 0.7, 0.6, 0.7, 0.6, 0.6, 0.7, 0.6,
                0.6, 0.7, 0.6, 0.6, 0.7, 0.6, 0.6, 0.7, 0.6, 0.7,
                0.7, 0.6, 0.7, 0.7, 0.7, 0.6, 0.7, 0.7, 0.6, 0.7,
                0.7, 0.6, 0.7, 0.6, 0.7, 0.7, 0.6, 0.7, 0.6, 0.6,
                0.7, 0.6, 0.6, 0.7, 0.6, 0.6, 0.7, 0.6, 0.6, 0.7,
                0.6, 0.7, 0.6, 0.6, 0.7, 0.6, 0.6, 0.7, 0.6, 0.6,
                0.7, 0.6, 0.6, 0.7, 0.6, 0.6, 0.7, 0.6, 0.6, 0.7,
                0.6, 0.6, 0.6, 0.6, 0.6, 0.6, 0.6, 0.6, 0.6, 0.6]

colors = sns.color_palette("tab10", 4)
plt.rcParams["font.family"] = "DejaVu Sans"

fig, axes = plt.subplots(3, 2, figsize=(14.61, 6.62), dpi=100)
fig.subplots_adjust(left=0.039, right=0.994, bottom=0.097, top=0.796,
                    wspace=0.2, hspace=0.197)


def draw(ax, series, title, labels):
    for (mean, err), lab, c in zip(series, labels, colors):
        ax.errorbar(steps, mean, yerr=err, color=c, label=lab, elinewidth=2.6)
    ax.set_title(title, fontsize=14)
    ax.tick_params(labelsize=14)


draw(axes[0, 0], [(greedy_sp, greedy_sp_err), (rand_sp, rand_sp_err),
                  (mynew_sp, mynew_sp_err), (equal_sp, equal_sp_err)],
     "shortfall_penalty", agents)
draw(axes[1, 0], [(greedy_dc, greedy_dc_err), (rand_dc, rand_dc_err),
                  (mynew_dc, mynew_dc_err), (equal_dc, equal_dc_err)],
     "disposal_cost", agents)
draw(axes[2, 0], [(sold_q0, sold_q0_err), (sold_q1, sold_q1_err), (sold_q2, sold_q2_err)],
     "sold_quantity", ["sold_quantity_0", "sold_quantity_1", "sold_quantity_2"])
draw(axes[0, 1], [(greedy_score, greedy_score_err), (rand_score, rand_score_err),
                  (mynew_score, mynew_score_err), (equal_score, equal_score_err)],
     "score", agents)
pct = lambda a: np.array(a) / 100
draw(axes[1, 1], [(pct(greedy_prod), pct(greedy_prod_err)), (pct(rand_prod), pct(rand_prod_err)),
                  (pct(mynew_prod), pct(mynew_prod_err)), (pct(equal_prod), pct(equal_prod_err))],
     "productivity", agents)
draw(axes[2, 1], [(trade_p0, trade_p0_err), (trade_p1, trade_p1_err), (trade_p2, trade_p2_err)],
     "trading_price", ["trading_price_0", "trading_price_1", "trading_price_2"])

for ax in axes[:2].ravel():
    ax.set_xticks([])
for ax in axes[2]:
    ax.set_xlabel("Simulation Step", fontsize=16)
axes[2, 0].legend(loc="upper left", fontsize=14)
axes[2, 1].legend(loc="lower left", fontsize=14)

handles, labels = axes[0, 0].get_legend_handles_labels()
fig.legend(handles, labels, loc="upper left", bbox_to_anchor=(0.0376, 0.985),
           ncol=4, fontsize=14, shadow=True, fancybox=True, borderaxespad=0)

fig.savefig("out.png", dpi=100)
